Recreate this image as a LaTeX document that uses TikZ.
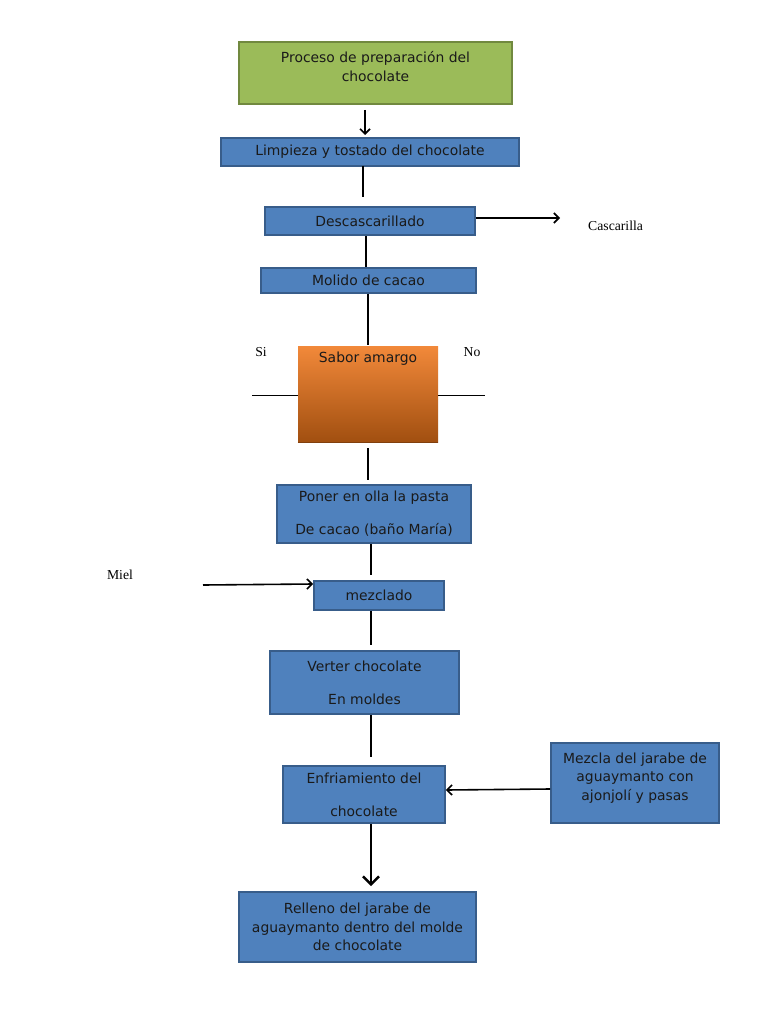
\documentclass[tikz,border=0pt]{standalone}
\usepackage{fontspec}
\setmainfont{DejaVu Sans}
\newfontfamily\serifl{Liberation Serif}
\usetikzlibrary{arrows.meta,positioning}
\definecolor{bfill}{HTML}{4F81BD}
\definecolor{bline}{HTML}{385D8A}
\definecolor{gfill}{HTML}{9BBB59}
\definecolor{gline}{HTML}{71893F}
\definecolor{otop}{HTML}{F2893A}
\definecolor{obot}{HTML}{A14F10}
\definecolor{txt}{HTML}{1A1A1A}
\tikzset{
  boxfont/.style={text=txt, font=\fontsize{13.9}{18.8}\selectfont},
  boxbase/.style={rectangle, line width=1.8pt, inner sep=0pt, align=center, boxfont},
  bluebox/.style={boxbase, draw=bline, fill=bfill},
  greenbox/.style={boxbase, draw=gline, fill=gfill},
  orangebox/.style={rectangle, inner sep=0pt, top color=otop, bottom color=obot, draw=none},
  lbl/.style={font=\serifl\fontsize{13.7}{15}\selectfont, text=black, inner sep=0pt},
  thinln/.style={line width=1pt, draw=black},
  midln/.style={line width=1.6pt, draw=black},
  thickln/.style={line width=2.6pt, draw=black},
  opentip/.style={-{Straight Barb[length=5pt,width=10pt,line width=1.6pt]}},
}
\begin{document}
\begin{tikzpicture}[x=1pt,y=-1pt]
\useasboundingbox[fill=white] (0,0) rectangle (768,1024);

% boxes
\node[greenbox, minimum width=273pt, minimum height=62pt,
  label={[anchor=north, yshift=-7pt, align=center, boxfont]north:Proceso de preparación del\\chocolate}] (proc) at (375.5,73) {};
\node[bluebox, minimum width=298pt, minimum height=28pt] (limp) at (370,152) {Limpieza y tostado del chocolate};
\node[bluebox, minimum width=210pt, minimum height=28pt] (desc) at (370,221) {Descascarillado};
\node[bluebox, minimum width=215pt, minimum height=25pt] (moli) at (368.5,280.5) {Molido de cacao};
\node[orangebox, minimum width=140pt, minimum height=96pt,
  label={[anchor=north, yshift=-3pt, boxfont]north:Sabor amargo}] (sabor) at (368,394) {};
\draw[line width=1.2pt, draw=obot!80!black] (sabor.south west) -- (sabor.south east);
\node[bluebox, minimum width=194pt, minimum height=58pt] (poner) at (374,514) {Poner en olla la pasta\\[14pt]De cacao (baño María)};
\node[bluebox, minimum width=130pt, minimum height=29pt] (mezc) at (379,595.5) {mezclado};
\node[bluebox, minimum width=189pt, minimum height=63pt] (vert) at (364.5,682.5) {Verter chocolate\\[14pt]En moldes};
\node[bluebox, minimum width=162pt, minimum height=57pt] (enfr) at (364,794.5) {Enfriamiento del\\[14pt]chocolate};
\node[bluebox, minimum width=168pt, minimum height=80pt,
  label={[anchor=center, yshift=5pt, align=center, boxfont]center:Mezcla del jarabe de\\aguaymanto con\\ajonjolí y pasas}] (mjar) at (635,783) {};
\node[bluebox, minimum width=237pt, minimum height=70pt] (rell) at (357.5,927) {Relleno del jarabe de\\aguaymanto dentro del molde\\de chocolate};

% labels
\node[lbl, anchor=west] (casc) at (588,226) {Cascarilla};
\node[lbl] (si) at (261,352) {Si};
\node[lbl] (no) at (472,352) {No};
\node[lbl] (miel) at (120,575) {Miel};

% free-end coordinates
\coordinate (cascend) at (560,218);
\coordinate (sil) at (252,395);
\coordinate (nor) at (485,395);
\coordinate (mielstart) at (203,585);

% connectors
\draw[midln, opentip] (365,110) -- (365,135);
\draw[midln] (363,166) -- (363,197);
\draw[midln] (desc.south -| 366,0) -- (moli.north -| 366,0);
\draw[midln, opentip] (desc.east |- 0,218) -- (cascend);
\draw[thickln] (moli.south -| 368,0) -- (368,345);
\draw[thickln] (368,448) -- (368,480);
\draw[thinln] (sil) -- (sabor.west |- sil);
\draw[thinln] (sabor.east |- nor) -- (nor);
\draw[thickln] (poner.south -| 371,0) -- (371,575);
\draw[midln, opentip] (mielstart) -- (mezc.west |- 0,584);
\draw[thickln] (mezc.south -| 371,0) -- (371,645);
\draw[thickln] (vert.south -| 371,0) -- (371,757);
\draw[midln, opentip] (mjar.west |- 0,789) -- (enfr.east |- 0,790);
\draw[thickln, -{Straight Barb[length=8pt,width=16pt,line width=2.4pt]}] (enfr.south -| 371,0) -- (371,886);
\end{tikzpicture}
\end{document}
